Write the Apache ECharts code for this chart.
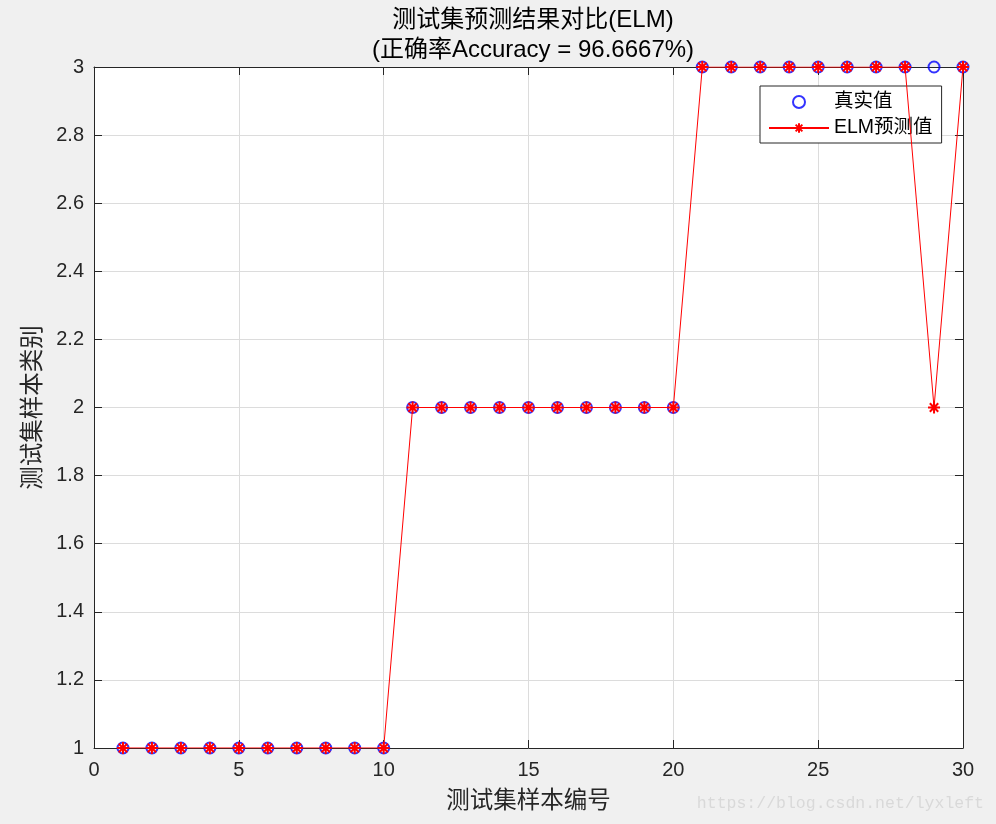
<!DOCTYPE html>
<html>
<head>
<meta charset="utf-8">
<script src="https://cdn.jsdelivr.net/npm/echarts@6/dist/echarts.min.js"></script>
<style>
html,body{margin:0;padding:0;background:#f0f0f0;}
#chart{width:996px;height:824px;}
</style>
</head>
<body>
<div id="chart"></div>
<script>
const sampleIdx = [1,2,3,4,5,6,7,8,9,10,11,12,13,14,15,16,17,18,19,20,21,22,23,24,25,26,27,28,29,30];
const trueClass = [1,1,1,1,1,1,1,1,1,1,2,2,2,2,2,2,2,2,2,2,3,3,3,3,3,3,3,3,3,3];
const predClass = [1,1,1,1,1,1,1,1,1,1,2,2,2,2,2,2,2,2,2,2,3,3,3,3,3,3,3,3,2,3];
const seriesNames = ['真实值', 'ELM预测值'];
const titleText = '测试集预测结果对比(ELM)\n(正确率Accuracy = 96.6667%)';
const xName = '测试集样本编号';
const yName = '测试集样本类别';
const watermark = 'https://blog.csdn.net/lyxleft';

const FONT = '"Liberation Sans", "Noto Sans CJK SC", sans-serif';
const AX = '#262626';
const star = 'path://M6,0 L6,12 M0,6 L12,6 M1.8,1.8 L10.2,10.2 M1.8,10.2 L10.2,1.8';

const chart = echarts.init(document.getElementById('chart'));
const trueData = sampleIdx.map((x, i) => [x, trueClass[i]]);
const predData = sampleIdx.map((x, i) => [x, predClass[i]]);

const boxAxisCommon = {
  axisLine: {show: true, onZero: false, lineStyle: {color: AX, width: 1}},
  axisTick: {show: true, inside: true, length: 8, lineStyle: {color: AX}},
};

chart.setOption({
  backgroundColor: '#f0f0f0',
  animation: false,
  title: {
    text: titleText,
    left: 528, textAlign: 'center', top: 0,
    textStyle: {fontFamily: FONT, fontSize: 24, fontWeight: 'normal', color: '#000', lineHeight: 30}
  },
  grid: {left: 94, right: 33, top: 67, bottom: 76, show: true, backgroundColor: '#fff', borderWidth: 0},
  legend: {
    orient: 'vertical', left: 760, top: 86,
    padding: [6, 9, 5, 8], itemGap: 6,
    itemWidth: 60, itemHeight: 12,
    backgroundColor: '#fff', borderColor: AX, borderWidth: 1, borderRadius: 0,
    textStyle: {fontFamily: FONT, fontSize: 19.5, color: '#000', lineHeight: 20},
    data: seriesNames
  },
  xAxis: [
    Object.assign({
      type: 'value', min: 0, max: 30, interval: 5, position: 'bottom',
      name: xName, nameLocation: 'middle', nameGap: 42,
      nameTextStyle: {fontFamily: FONT, fontSize: 23.5, color: '#262626'},
      axisLabel: {fontFamily: FONT, fontSize: 20, color: '#262626', margin: 12},
      splitLine: {show: true, lineStyle: {color: '#dcdcdc', width: 1}}
    }, boxAxisCommon),
    Object.assign({
      type: 'value', min: 0, max: 30, interval: 5, position: 'top',
      axisLabel: {show: false}, splitLine: {show: false}
    }, boxAxisCommon)
  ],
  yAxis: [
    Object.assign({
      type: 'value', min: 1, max: 3, interval: 0.2, position: 'left',
      name: yName, nameLocation: 'middle', nameGap: 42,
      nameTextStyle: {fontFamily: FONT, fontSize: 23.5, color: '#262626'},
      axisLabel: {fontFamily: FONT, fontSize: 20, color: '#262626', margin: 10},
      splitLine: {show: true, lineStyle: {color: '#dcdcdc', width: 1}}
    }, boxAxisCommon),
    Object.assign({
      type: 'value', min: 1, max: 3, interval: 0.2, position: 'right',
      axisLabel: {show: false}, splitLine: {show: false}
    }, boxAxisCommon)
  ],
  series: [
    {
      name: seriesNames[0], type: 'scatter', data: trueData,
      symbol: 'circle', symbolSize: 11,
      itemStyle: {color: 'rgba(0,0,0,0)', borderColor: '#0000ff', borderWidth: 2},
      z: 3
    },
    {
      name: seriesNames[1], type: 'line', data: predData,
      symbol: star, symbolSize: 12, showAllSymbol: true,
      lineStyle: {color: '#ff0000', width: 1},
      itemStyle: {color: 'rgba(0,0,0,0)', borderColor: '#ff0000', borderWidth: 2},
      z: 4
    }
  ],
  graphic: [{
    type: 'text', right: 12, top: 795,
    style: {text: watermark, fontFamily: '"Liberation Mono", monospace', fontSize: 16.5, fill: '#d9d9d9'}
  }]
});
</script>
</body>
</html>
